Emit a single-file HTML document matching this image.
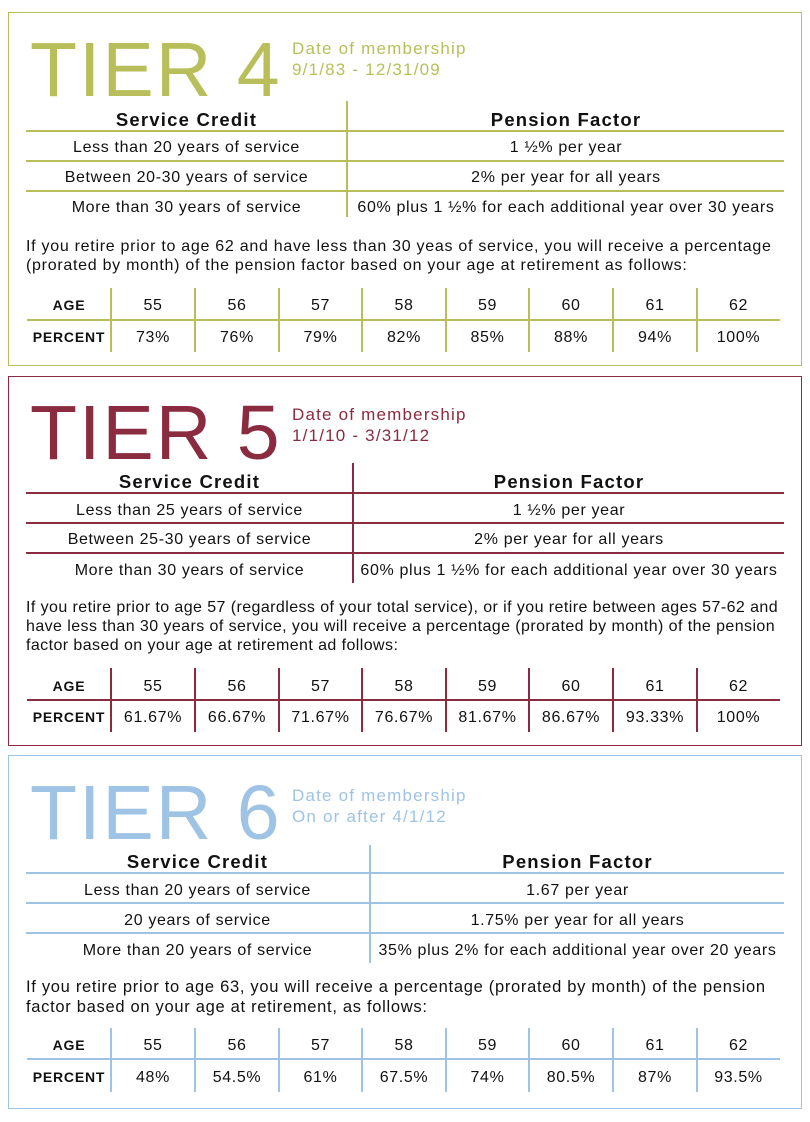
<!DOCTYPE html>
<html><head><meta charset="utf-8"><style>
*{margin:0;padding:0;box-sizing:border-box}
body{width:810px;height:1122px;background:#fff;position:relative;font-family:"Liberation Sans",sans-serif;color:#111;overflow:hidden}
.box{position:absolute;left:8px;width:794px;border:1.5px solid}
.t{position:absolute;font-size:77px;line-height:1;white-space:nowrap;letter-spacing:2px}
.d{position:absolute;font-size:17px;line-height:21px;white-space:nowrap;letter-spacing:1.2px}
.c{position:absolute;height:20px;line-height:23px;font-size:16px;letter-spacing:0.65px;text-align:center;white-space:nowrap}
.h{font-weight:bold;font-size:18.5px;letter-spacing:1.2px}
.p{position:absolute;left:26px;font-size:16px;letter-spacing:0.72px;line-height:19px;white-space:nowrap}
.hl{position:absolute;height:1.5px}
.vl{position:absolute;width:1.5px}
.b{font-weight:bold;font-size:14px;letter-spacing:0.8px}
</style></head><body>

<!-- TIER 4 -->
<div class="box" style="top:12px;height:354px;border-color:#b8bf5a"></div>
<div class="t" style="left:30px;top:32px;color:#b8bf5a">TIER 4</div>
<div class="d" style="left:292px;top:38px;color:#b8bf5a">Date of membership<br>9/1/83 - 12/31/09</div>
<div class="c h" style="left:26px;width:321px;top:108px">Service Credit</div>
<div class="c h" style="left:348px;width:436px;top:108px">Pension Factor</div>
<div class="vl" style="left:346px;top:101px;height:116px;background:#b8bf5a"></div>
<div class="hl" style="left:26px;width:758px;top:130px;background:#b8bf5a"></div>
<div class="hl" style="left:26px;width:758px;top:160px;background:#b8bf5a"></div>
<div class="hl" style="left:26px;width:758px;top:190px;background:#b8bf5a"></div>
<div class="c" style="left:26px;width:321px;top:136px">Less than 20 years of service</div>
<div class="c" style="left:348px;width:436px;top:136px">1 ½% per year</div>
<div class="c" style="left:26px;width:321px;top:166px">Between 20-30 years of service</div>
<div class="c" style="left:348px;width:436px;top:166px">2% per year for all years</div>
<div class="c" style="left:26px;width:321px;top:196px">More than 30 years of service</div>
<div class="c" style="left:348px;width:436px;top:196px">60% plus 1 ½% for each additional year over 30 years</div>
<div class="p" style="top:237px">If you retire prior to age 62 and have less than 30 yeas of service, you will receive a percentage<br>(prorated by month) of the pension factor based on your age at retirement as follows:</div>
<div class="hl" style="left:27px;width:753px;top:319px;background:#b8bf5a"></div>
<div class="vl" style="left:110px;top:288px;height:64px;background:#b8bf5a"></div>
<div class="vl" style="left:194px;top:288px;height:64px;background:#b8bf5a"></div>
<div class="vl" style="left:278px;top:288px;height:64px;background:#b8bf5a"></div>
<div class="vl" style="left:361px;top:288px;height:64px;background:#b8bf5a"></div>
<div class="vl" style="left:445px;top:288px;height:64px;background:#b8bf5a"></div>
<div class="vl" style="left:528px;top:288px;height:64px;background:#b8bf5a"></div>
<div class="vl" style="left:612px;top:288px;height:64px;background:#b8bf5a"></div>
<div class="vl" style="left:696px;top:288px;height:64px;background:#b8bf5a"></div>
<div class="c b" style="left:27px;width:84px;top:294px">AGE</div>
<div class="c b" style="left:27px;width:84px;top:326px">PERCENT</div>
<div class="c" style="left:111px;width:84px;top:294px">55</div><div class="c" style="left:111px;width:84px;top:326px">73%</div>
<div class="c" style="left:195px;width:84px;top:294px">56</div><div class="c" style="left:195px;width:84px;top:326px">76%</div>
<div class="c" style="left:279px;width:83px;top:294px">57</div><div class="c" style="left:279px;width:83px;top:326px">79%</div>
<div class="c" style="left:362px;width:84px;top:294px">58</div><div class="c" style="left:362px;width:84px;top:326px">82%</div>
<div class="c" style="left:446px;width:83px;top:294px">59</div><div class="c" style="left:446px;width:83px;top:326px">85%</div>
<div class="c" style="left:529px;width:84px;top:294px">60</div><div class="c" style="left:529px;width:84px;top:326px">88%</div>
<div class="c" style="left:613px;width:84px;top:294px">61</div><div class="c" style="left:613px;width:84px;top:326px">94%</div>
<div class="c" style="left:697px;width:83px;top:294px">62</div><div class="c" style="left:697px;width:83px;top:326px">100%</div>

<!-- TIER 5 -->
<div class="box" style="top:376px;height:370px;border-color:#8a2b3f"></div>
<div class="t" style="left:30px;top:395px;color:#8a2b3f">TIER 5</div>
<div class="d" style="left:292px;top:404px;color:#8a2b3f">Date of membership<br>1/1/10 - 3/31/12</div>
<div class="c h" style="left:26px;width:327px;top:470px">Service Credit</div>
<div class="c h" style="left:354px;width:430px;top:470px">Pension Factor</div>
<div class="vl" style="left:352px;top:463px;height:120px;background:#8a2b3f"></div>
<div class="hl" style="left:26px;width:758px;top:492px;background:#8a2b3f"></div>
<div class="hl" style="left:26px;width:758px;top:522px;background:#8a2b3f"></div>
<div class="hl" style="left:26px;width:758px;top:552px;background:#8a2b3f"></div>
<div class="c" style="left:26px;width:327px;top:499px">Less than 25 years of service</div>
<div class="c" style="left:354px;width:430px;top:499px">1 ½% per year</div>
<div class="c" style="left:26px;width:327px;top:528px">Between 25-30 years of service</div>
<div class="c" style="left:354px;width:430px;top:528px">2% per year for all years</div>
<div class="c" style="left:26px;width:327px;top:559px">More than 30 years of service</div>
<div class="c" style="left:354px;width:430px;top:559px">60% plus 1 ½% for each additional year over 30 years</div>
<div class="p" style="top:598px;letter-spacing:0.42px">If you retire prior to age 57 (regardless of your total service), or if you retire between ages 57-62 and<br>have less than 30 years of service, you will receive a percentage (prorated by month) of the pension<br>factor based on your age at retirement ad follows:</div>
<div class="hl" style="left:27px;width:753px;top:699px;background:#8a2b3f"></div>
<div class="vl" style="left:110px;top:668px;height:64px;background:#8a2b3f"></div>
<div class="vl" style="left:194px;top:668px;height:64px;background:#8a2b3f"></div>
<div class="vl" style="left:278px;top:668px;height:64px;background:#8a2b3f"></div>
<div class="vl" style="left:361px;top:668px;height:64px;background:#8a2b3f"></div>
<div class="vl" style="left:445px;top:668px;height:64px;background:#8a2b3f"></div>
<div class="vl" style="left:528px;top:668px;height:64px;background:#8a2b3f"></div>
<div class="vl" style="left:612px;top:668px;height:64px;background:#8a2b3f"></div>
<div class="vl" style="left:696px;top:668px;height:64px;background:#8a2b3f"></div>
<div class="c b" style="left:27px;width:84px;top:675px">AGE</div>
<div class="c b" style="left:27px;width:84px;top:706px">PERCENT</div>
<div class="c" style="left:111px;width:84px;top:675px">55</div><div class="c" style="left:111px;width:84px;top:706px">61.67%</div>
<div class="c" style="left:195px;width:84px;top:675px">56</div><div class="c" style="left:195px;width:84px;top:706px">66.67%</div>
<div class="c" style="left:279px;width:83px;top:675px">57</div><div class="c" style="left:279px;width:83px;top:706px">71.67%</div>
<div class="c" style="left:362px;width:84px;top:675px">58</div><div class="c" style="left:362px;width:84px;top:706px">76.67%</div>
<div class="c" style="left:446px;width:83px;top:675px">59</div><div class="c" style="left:446px;width:83px;top:706px">81.67%</div>
<div class="c" style="left:529px;width:84px;top:675px">60</div><div class="c" style="left:529px;width:84px;top:706px">86.67%</div>
<div class="c" style="left:613px;width:84px;top:675px">61</div><div class="c" style="left:613px;width:84px;top:706px">93.33%</div>
<div class="c" style="left:697px;width:83px;top:675px">62</div><div class="c" style="left:697px;width:83px;top:706px">100%</div>

<!-- TIER 6 -->
<div class="box" style="top:755px;height:354px;border-color:#9fc3e4"></div>
<div class="t" style="left:30px;top:775px;color:#9fc3e4">TIER 6</div>
<div class="d" style="left:292px;top:785px;color:#9fc3e4">Date of membership<br>On or after 4/1/12</div>
<div class="c h" style="left:26px;width:343px;top:850px">Service Credit</div>
<div class="c h" style="left:371px;width:413px;top:850px">Pension Factor</div>
<div class="vl" style="left:369px;top:845px;height:118px;background:#9fc3e4"></div>
<div class="hl" style="left:26px;width:758px;top:872px;background:#9fc3e4"></div>
<div class="hl" style="left:26px;width:758px;top:902px;background:#9fc3e4"></div>
<div class="hl" style="left:26px;width:758px;top:932px;background:#9fc3e4"></div>
<div class="c" style="left:26px;width:343px;top:879px">Less than 20 years of service</div>
<div class="c" style="left:371px;width:413px;top:879px">1.67 per year</div>
<div class="c" style="left:26px;width:343px;top:909px">20 years of service</div>
<div class="c" style="left:371px;width:413px;top:909px">1.75% per year for all years</div>
<div class="c" style="left:26px;width:343px;top:939px">More than 20 years of service</div>
<div class="c" style="left:371px;width:413px;top:939px">35% plus 2% for each additional year over 20 years</div>
<div class="p" style="top:977px;font-size:16.5px;letter-spacing:0.7px;line-height:20px">If you retire prior to age 63, you will receive a percentage (prorated by month) of the pension<br>factor based on your age at retirement, as follows:</div>
<div class="hl" style="left:27px;width:753px;top:1058px;background:#9fc3e4"></div>
<div class="vl" style="left:110px;top:1028px;height:64px;background:#9fc3e4"></div>
<div class="vl" style="left:194px;top:1028px;height:64px;background:#9fc3e4"></div>
<div class="vl" style="left:278px;top:1028px;height:64px;background:#9fc3e4"></div>
<div class="vl" style="left:361px;top:1028px;height:64px;background:#9fc3e4"></div>
<div class="vl" style="left:445px;top:1028px;height:64px;background:#9fc3e4"></div>
<div class="vl" style="left:528px;top:1028px;height:64px;background:#9fc3e4"></div>
<div class="vl" style="left:612px;top:1028px;height:64px;background:#9fc3e4"></div>
<div class="vl" style="left:696px;top:1028px;height:64px;background:#9fc3e4"></div>
<div class="c b" style="left:27px;width:84px;top:1034px">AGE</div>
<div class="c b" style="left:27px;width:84px;top:1066px">PERCENT</div>
<div class="c" style="left:111px;width:84px;top:1034px">55</div><div class="c" style="left:111px;width:84px;top:1066px">48%</div>
<div class="c" style="left:195px;width:84px;top:1034px">56</div><div class="c" style="left:195px;width:84px;top:1066px">54.5%</div>
<div class="c" style="left:279px;width:83px;top:1034px">57</div><div class="c" style="left:279px;width:83px;top:1066px">61%</div>
<div class="c" style="left:362px;width:84px;top:1034px">58</div><div class="c" style="left:362px;width:84px;top:1066px">67.5%</div>
<div class="c" style="left:446px;width:83px;top:1034px">59</div><div class="c" style="left:446px;width:83px;top:1066px">74%</div>
<div class="c" style="left:529px;width:84px;top:1034px">60</div><div class="c" style="left:529px;width:84px;top:1066px">80.5%</div>
<div class="c" style="left:613px;width:84px;top:1034px">61</div><div class="c" style="left:613px;width:84px;top:1066px">87%</div>
<div class="c" style="left:697px;width:83px;top:1034px">62</div><div class="c" style="left:697px;width:83px;top:1066px">93.5%</div>

</body></html>
